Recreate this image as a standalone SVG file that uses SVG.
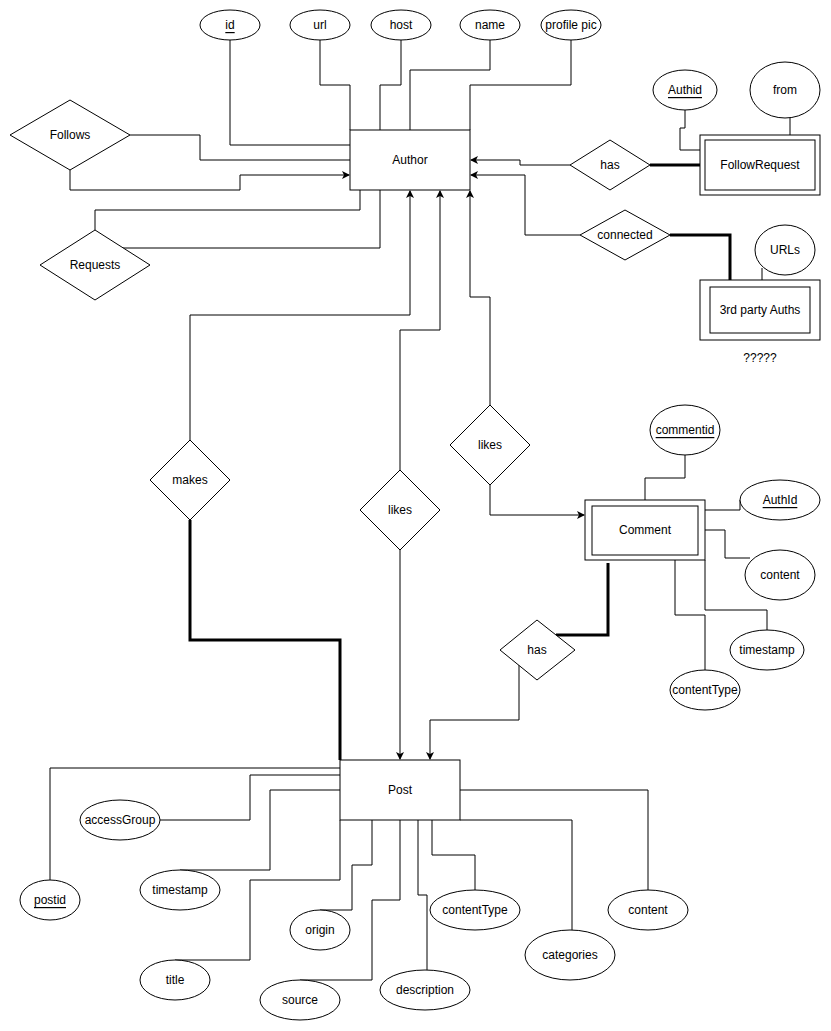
<svg xmlns="http://www.w3.org/2000/svg" width="831" height="1031" viewBox="0 0 831 1031">
<style>
text{font-family:"Liberation Sans",Arial,sans-serif;font-size:12px;text-anchor:middle;dominant-baseline:central;fill:#000}
.s{fill:#fff;stroke:#000;stroke-width:1}
.c{fill:none;stroke:#000;stroke-width:1}
.t{fill:none;stroke:#000;stroke-width:3}
.u{text-decoration:underline}
</style>
<defs><marker id="a" markerWidth="8" markerHeight="8" refX="7" refY="4" orient="auto" markerUnits="userSpaceOnUse"><path d="M0,0L8,4L0,8L2,4Z" fill="#000"/></marker></defs>
<rect width="831" height="1031" fill="#fff"/>
<g id="connectors">
<path class="c" d="M230,40V145H350"/>
<path class="c" d="M320,40V85H350V130"/>
<path class="c" d="M401,40V85H380V130"/>
<path class="c" d="M490,40V70H410V130"/>
<path class="c" d="M571,40V85H470V130"/>
<path class="c" d="M130,135H200V160H350"/>
<path class="c" d="M70,170V190H240V175H349" marker-end="url(#a)"/>
<path class="c" d="M95,230V210H360V190"/>
<path class="c" d="M123,248H380V190"/>
<path class="c" d="M190,440V315H410V191" marker-end="url(#a)"/>
<path class="c" d="M400,470V330H440V191" marker-end="url(#a)"/>
<path class="c" d="M490,405V297H470V191" marker-end="url(#a)"/>
<path class="c" d="M490,485V515H584" marker-end="url(#a)"/>
<path class="c" d="M570,165H520V160H471" marker-end="url(#a)"/>
<path class="t" d="M650,165H700"/>
<path class="c" d="M685,110V128H680V150H700"/>
<path class="c" d="M790,118V135"/>
<path class="c" d="M580,235H525V175H471" marker-end="url(#a)"/>
<path class="t" d="M670,235H730V280"/>
<path class="c" d="M762,268V280"/>
<path class="c" d="M685,455V478H645V500"/>
<path class="c" d="M705,510H740V500"/>
<path class="c" d="M705,530H725V558H750"/>
<path class="c" d="M705,560V610H767V630"/>
<path class="c" d="M675,560V615H705V670"/>
<path class="t" d="M608,563V635H556"/>
<path class="c" d="M519,665V720H430V759" marker-end="url(#a)"/>
<path class="t" d="M190,520V640H340V760"/>
<path class="c" d="M400,550V759" marker-end="url(#a)"/>
<path class="c" d="M50,880V768H340"/>
<path class="c" d="M160,820H250V775H340"/>
<path class="c" d="M180,870H270V790H340"/>
<path class="c" d="M175,960H250V880H340V820"/>
<path class="c" d="M320,910H352V865H372V820"/>
<path class="c" d="M300,980H372V900H400V820"/>
<path class="c" d="M427,970V895H418V820"/>
<path class="c" d="M475,890V855H432V820"/>
<path class="c" d="M572,930V820H460"/>
<path class="c" d="M648,890V790H460"/>
</g>
<g id="author"><rect class="s" x="350" y="130" width="120" height="60"/><text x="410" y="160">Author</text></g>
<g id="id"><ellipse class="s" cx="230" cy="25" rx="30" ry="15"/><text class="u" x="230" y="25">id</text></g>
<g id="url"><ellipse class="s" cx="320" cy="25" rx="30" ry="15"/><text x="320" y="25">url</text></g>
<g id="host"><ellipse class="s" cx="401" cy="25" rx="30" ry="15"/><text x="401" y="25">host</text></g>
<g id="name"><ellipse class="s" cx="490" cy="25" rx="30" ry="15"/><text x="490" y="25">name</text></g>
<g id="pic"><ellipse class="s" cx="571" cy="25" rx="30" ry="15"/><text x="571" y="25">profile pic</text></g>
<g id="follows"><path class="s" d="M10,135L70,100L130,135L70,170Z"/><text x="70" y="135">Follows</text></g>
<g id="requests"><path class="s" d="M40,265L95,230L150,265L95,300Z"/><text x="95" y="265">Requests</text></g>
<g id="makes"><path class="s" d="M150,480L190,440L230,480L190,520Z"/><text x="190" y="480">makes</text></g>
<g id="likes1"><path class="s" d="M360,510L400,470L440,510L400,550Z"/><text x="400" y="510">likes</text></g>
<g id="likes2"><path class="s" d="M450,445L490,405L530,445L490,485Z"/><text x="490" y="445">likes</text></g>
<g id="has1"><path class="s" d="M570,165L610,140L650,165L610,190Z"/><text x="610" y="165">has</text></g>
<g id="followrequest"><rect class="s" x="700" y="135" width="120" height="60"/><rect class="s" x="705" y="140" width="110" height="50"/><text x="760" y="165">FollowRequest</text></g>
<g id="authid"><ellipse class="s" cx="685" cy="90" rx="32" ry="20"/><text class="u" x="685" y="90">Authid</text></g>
<g id="from"><ellipse class="s" cx="785" cy="90" rx="35" ry="28"/><text x="785" y="90">from</text></g>
<g id="connected"><path class="s" d="M580,235L625,210L670,235L625,260Z"/><text x="625" y="235">connected</text></g>
<g id="thirdparty"><rect class="s" x="700" y="280" width="120" height="60"/><rect class="s" x="710" y="287" width="100" height="46"/><text x="760" y="310">3rd party Auths</text></g>
<g id="urls"><ellipse class="s" cx="785" cy="250" rx="30" ry="25"/><text x="785" y="250">URLs</text></g>
<text x="760" y="358">?????</text>
<g id="comment"><rect class="s" x="585" y="500" width="120" height="60"/><rect class="s" x="592" y="506" width="106" height="49"/><text x="645" y="530">Comment</text></g>
<g id="commentid"><ellipse class="s" cx="685" cy="430" rx="35" ry="25"/><text class="u" x="685" y="430">commentid</text></g>
<g id="authid2"><ellipse class="s" cx="780" cy="500" rx="40" ry="20"/><text class="u" x="780" y="500">AuthId</text></g>
<g id="ccontent"><ellipse class="s" cx="780" cy="575" rx="35" ry="25"/><text x="780" y="575">content</text></g>
<g id="ctimestamp"><ellipse class="s" cx="767" cy="650" rx="37" ry="20"/><text x="767" y="650">timestamp</text></g>
<g id="ccontenttype"><ellipse class="s" cx="705" cy="690" rx="35" ry="20"/><text x="705" y="690">contentType</text></g>
<g id="has2"><path class="s" d="M500,650L537,620L575,650L537,680Z"/><text x="537" y="650">has</text></g>
<g id="post"><rect class="s" x="340" y="760" width="120" height="60"/><text x="400" y="790">Post</text></g>
<g id="postid"><ellipse class="s" cx="50" cy="900" rx="30" ry="20"/><text class="u" x="50" y="900">postid</text></g>
<g id="accessgroup"><ellipse class="s" cx="120" cy="820" rx="40" ry="20"/><text x="120" y="820">accessGroup</text></g>
<g id="ptimestamp"><ellipse class="s" cx="180" cy="890" rx="40" ry="20"/><text x="180" y="890">timestamp</text></g>
<g id="title"><ellipse class="s" cx="175" cy="980" rx="35" ry="20"/><text x="175" y="980">title</text></g>
<g id="origin"><ellipse class="s" cx="320" cy="930" rx="30" ry="20"/><text x="320" y="930">origin</text></g>
<g id="source"><ellipse class="s" cx="300" cy="1000" rx="40" ry="20"/><text x="300" y="1000">source</text></g>
<g id="description"><ellipse class="s" cx="425" cy="990" rx="45" ry="20"/><text x="425" y="990">description</text></g>
<g id="pcontenttype"><ellipse class="s" cx="475" cy="910" rx="45" ry="20"/><text x="475" y="910">contentType</text></g>
<g id="categories"><ellipse class="s" cx="570" cy="955" rx="45" ry="25"/><text x="570" y="955">categories</text></g>
<g id="pcontent"><ellipse class="s" cx="648" cy="910" rx="40" ry="20"/><text x="648" y="910">content</text></g>
</svg>
